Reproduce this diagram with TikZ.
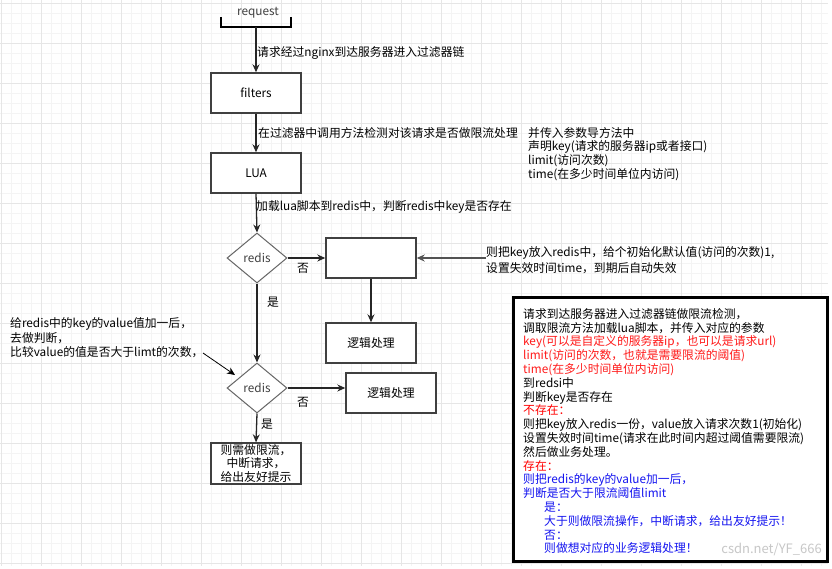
\documentclass[tikz,border=0pt]{standalone}
\usepackage{fontspec}
\setmainfont{Noto Sans CJK SC}
\usetikzlibrary{arrows.meta,shapes.geometric}
\definecolor{boxline}{HTML}{404040}
\definecolor{majgrid}{HTML}{E6E6E6}
\definecolor{mingrid}{HTML}{F4F4F4}
\definecolor{txtred}{HTML}{FF1A1A}
\definecolor{txtblue}{HTML}{1414F0}
\tikzset{
  lbl/.style={anchor=west,inner sep=0pt},
  cen/.style={inner sep=0pt},
  box/.style={draw=boxline,line width=1.4pt,fill=white,minimum width=90pt,minimum height=40pt,inner sep=0pt},
  dia/.style={diamond,draw=boxline!80,line width=1pt,fill=white,minimum width=60pt,minimum height=50pt,inner sep=0pt,text=boxline},
  arr/.style={line width=1.3pt,draw=black!85,-{Stealth[length=8pt,width=7pt]}},
  minorgrid/.style={draw=mingrid,line width=0.6pt},
  majorgrid/.style={draw=majgrid,line width=0.9pt},
}
\begin{document}
\begin{tikzpicture}[x=1pt,y=-1pt,font=\fontsize{11.8}{13.8}\selectfont]
\useasboundingbox (0,0) rectangle (832,568);
\fill[white] (0,0) rectangle (832,568);
% grid
\foreach \x in {1,11,...,821} \draw[minorgrid] (\x,0) -- (\x,566);
\foreach \y in {3,13,...,563} \draw[minorgrid] (0,\y) -- (828,\y);
\foreach \x in {1,41,...,801} \draw[majorgrid] (\x,0) -- (\x,566);
\foreach \y in {3,43,...,563} \draw[majorgrid] (0,\y) -- (828,\y);

% request bracket
\node[cen,text=boxline] (reqtext) at (258,13) {request};
\draw[line width=1.6pt,black] (221,17) -- (221,27) -- (291,27) -- (291,17);
\coordinate (rq) at (256,27);

% boxes
\node[box] (filters) at (256,93) {filters};
\node[box] (lua) at (256,173) {LUA};
\node[dia] (d1) at (257,258) {redis};
\node[box] (b2) at (371,258) {};
\node[box] (b3) at (371,343) {逻辑处理};
\node[dia] (d2) at (257,388) {redis};
\node[box] (b4) at (391,393) {逻辑处理};
\node[box,minimum height=41pt,align=center,font=\fontsize{11.8}{13.2}\selectfont] (b5) at (256,463.5) {则需做限流，\\中断请求，\\给出友好提示};

% connectors
\draw[arr] (rq) -- (filters.north);
\draw[arr] (filters.south) -- (lua.north);
\draw[arr] (lua.south) -- (d1.north);
\draw[arr] (d1.east) -- (b2.west);
\draw[arr] (b2.south) -- (b3.north);
\draw[arr] (d1.south) -- (d2.north);
\draw[arr] (d2.east) -- (d2.east -| b4.west);
\draw[arr] (d2.south) -- (b5.north);
\coordinate (rt) at (486,258);
\draw[arr,draw=boxline!90] (rt) -- (b2.east);
\coordinate (ans) at (203,353);
\coordinate (ane) at (235,375);
\draw[line width=0.8pt,black,-{Stealth[length=8pt,width=7pt]}] (ans) -- (ane);

% labels
\node[lbl] (l1) at (257,53) {请求经过nginx到达服务器进入过滤器链};
\node[lbl] (l2) at (258,133) {在过滤器中调用方法检测对该请求是否做限流处理};
\node[lbl] (l3) at (528,133) {并传入参数导方法中};
\node[lbl] (l4) at (528,147) {声明key(请求的服务器ip或者接口)};
\node[lbl] (l5) at (528,161) {limit(访问次数)};
\node[lbl] (l6) at (528,175) {time(在多少时间单位内访问)};
\node[lbl] (l7) at (256,207) {加载lua脚本到redis中，判断redis中key是否存在};
\node[cen] (no1) at (303,268) {否};
\node[lbl] (l8) at (486,253) {则把key放入redis中，给个初始化默认值(访问的次数)1,};
\node[lbl] (l9) at (486,268) {设置失效时间time，到期后自动失效};
\node[cen] (yes1) at (273,302) {是};
\node[lbl] (a1) at (10,324) {给redis中的key的value值加一后，};
\node[lbl] (a2) at (10,338) {去做判断，};
\node[lbl] (a3) at (10,352) {比较value的值是否大于limt的次数，};
\node[cen] (no2) at (303,402) {否};
\node[cen] (yes2) at (267,424) {是};

% big note box
\draw[line width=3pt,black,fill=white] (513,297) rectangle (827,561);
\node[anchor=east,inner sep=0pt,text=black!22,font=\fontsize{13}{15}\selectfont] (wm) at (822,549) {csdn.net/YF\_666};
\node[anchor=north west,inner sep=0pt,align=left] (bt) at (523,308) {%
请求到达服务器进入过滤器链做限流检测，\\
调取限流方法加载lua脚本，并传入对应的参数\\
{\color{txtred}key(可以是自定义的服务器ip，也可以是请求url)}\\
{\color{txtred}limit(访问的次数，也就是需要限流的阈值)}\\
{\color{txtred}time(在多少时间单位内访问)}\\
到redsi中\\
判断key是否存在\\
{\color{red}不存在：}\\
则把key放入redis一份，value放入请求次数1(初始化)\\
设置失效时间time(请求在此时间内超过阈值需要限流)\\
然后做业务处理。\\
{\color{red}存在：}\\
{\color{txtblue}则把redis的key的value加一后，}\\
{\color{txtblue}判断是否大于限流阈值limit}\\
{\color{txtblue}\hspace*{21pt}是：}\\
{\color{txtblue}\hspace*{21pt}大于则做限流操作，中断请求，给出友好提示！}\\
{\color{txtblue}\hspace*{21pt}否：}\\
{\color{txtblue}\hspace*{21pt}则做想对应的业务逻辑处理！}};
\end{tikzpicture}
\end{document}
